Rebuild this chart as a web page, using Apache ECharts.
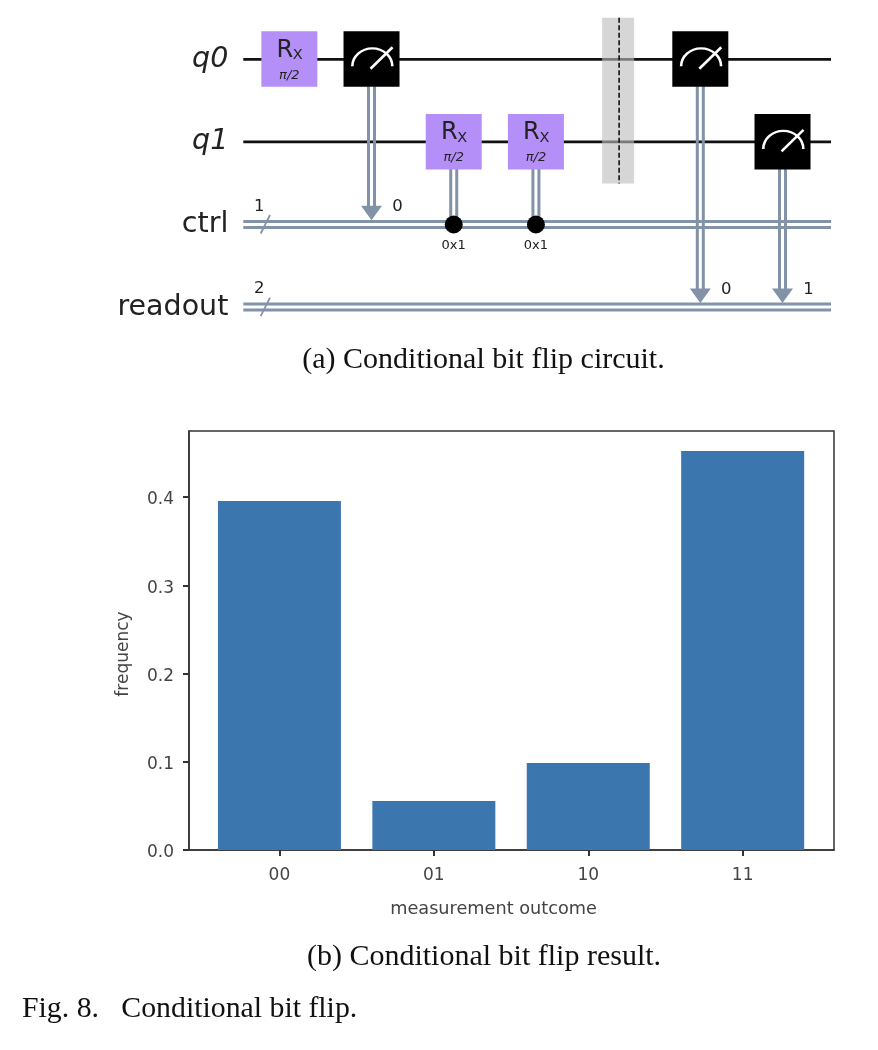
<!DOCTYPE html>
<html>
<head>
<meta charset="utf-8">
<title>Conditional bit flip</title>
<style>
  html, body { margin: 0; padding: 0; background: #fff; }
  #chart { width: 878px; height: 1050px; }
</style>
<script src="https://cdn.jsdelivr.net/npm/echarts@6/dist/echarts.min.js"></script>
</head>
<body>
<div id="chart"></div>
<script>
// Measurement statistics
const outcomes = ['00', '01', '10', '11'];
const frequencies = [0.3955, 0.0555, 0.0986, 0.452];
const frequencyTicks = [0, 0.1, 0.2, 0.3, 0.4];
const outcomeTicks = [0, 1, 2, 3];

// Circuit layout: columns are time steps, wires are indexed from the top
const wireNames = ['q0', 'q1', 'ctrl', 'readout'];
const quantumWires = [0, 1];
const classicalWires = [2, 3];
const rotationGates = [[0, 0], [2, 1], [3, 1]];          // column, wire
const measurements = [[1, 0, 2, '0'], [5, 0, 3, '0'], [6, 1, 3, '1']]; // column, wire, target, bit
const conditions = [[2, 1, 2, '0x1'], [3, 1, 2, '0x1']]; // column, wire, target, value
const barriers = [[4, 0, 1]];                            // column, first wire, last wire
const registerSizes = [[2, '1'], [3, '2']];              // wire, size

const wireStart = -0.56;
const wireEnd = 6.59;

const INK = '#111111';
const CLASSICAL = '#8293a8';
const GATE = '#b48ff8';
const AXIS = '#333333';
const SANS = '"DejaVu Sans"';
const SERIF = '"Liberation Serif"';

function label(x, y, text, size, extra) {
  return {
    type: 'text', x, y,
    style: Object.assign({
      text, fill: '#222', fontSize: size, fontFamily: SANS,
      align: 'center', verticalAlign: 'middle'
    }, extra || {})
  };
}

function line(x1, y1, x2, y2, stroke, width, dash) {
  return {
    type: 'line',
    shape: { x1, y1, x2, y2 },
    style: { stroke, lineWidth: width, lineDash: dash || null, fill: null }
  };
}

function doubleVertical(x, y1, y2) {
  return [line(x - 3, y1, x - 3, y2, CLASSICAL, 3), line(x + 3, y1, x + 3, y2, CLASSICAL, 3)];
}

function circuitSeries(name, data, renderItem) {
  return {
    type: 'custom', name, data, renderItem,
    xAxisIndex: 1, yAxisIndex: 1, silent: true, clip: false, animation: false
  };
}

const BOX = 28;

const option = {
  animation: false,
  backgroundColor: '#fff',
  grid: [
    { left: 189, top: 431, width: 645, height: 419, show: true, borderColor: AXIS, borderWidth: 1.5, backgroundColor: 'transparent' },
    { left: 243.3, top: 18, width: 587.7, height: 330.4, show: false }
  ],
  xAxis: [
    {
      type: 'value', gridIndex: 0, min: -0.5857, max: 3.5915,
      splitLine: { show: false },
      axisLine: { show: true, onZero: false, lineStyle: { color: AXIS, width: 1.5 } },
      axisTick: { show: true, length: 6, customValues: outcomeTicks, lineStyle: { color: AXIS, width: 2 } },
      axisLabel: {
        customValues: outcomeTicks,
        formatter: v => outcomes[v],
        color: '#444', fontSize: 17, fontFamily: SANS, margin: 17
      }
    },
    { type: 'value', gridIndex: 1, min: wireStart, max: wireEnd, show: false, splitLine: { show: false } }
  ],
  yAxis: [
    {
      type: 'value', gridIndex: 0, min: 0, max: 0.4748,
      splitLine: { show: false },
      axisLine: { show: true, onZero: false, lineStyle: { color: AXIS, width: 1.5 } },
      axisTick: { show: true, length: 6, customValues: frequencyTicks, lineStyle: { color: AXIS, width: 2 } },
      axisLabel: {
        customValues: frequencyTicks,
        formatter: v => '{t|' + v.toFixed(1) + '}',
        color: '#444', fontSize: 17, fontFamily: SANS, margin: 15,
        rich: { t: { color: '#444', fontSize: 17, fontFamily: SANS, padding: [6, 0, 0, 0] } }
      }
    },
    {
      type: 'value', gridIndex: 1, min: -0.5, max: 3.5, inverse: true,
      splitLine: { show: false },
      axisLine: { show: false }, axisTick: { show: false },
      axisLabel: {
        customValues: wireNames.map((_, i) => i),
        formatter: v => (v < 2 ? '{it|' + wireNames[v] + '}' : wireNames[v]),
        color: '#222', fontSize: 28.5, fontFamily: SANS, margin: 15,
        rich: { it: { fontStyle: 'italic', fontSize: 28.5, fontFamily: SANS, color: '#222' } }
      }
    }
  ],
  series: [
    {
      type: 'bar', name: 'frequency', xAxisIndex: 0, yAxisIndex: 0,
      data: frequencies.map((v, i) => [i, v]),
      barWidth: 123,
      itemStyle: { color: '#3c76ae' }
    },
    circuitSeries('quantum wires', quantumWires.map(w => [wireStart, w]), (p, api) => {
      const a = api.coord([wireStart, api.value(1)]);
      const b = api.coord([wireEnd, api.value(1)]);
      return line(a[0], a[1], b[0], b[1], INK, 2.8);
    }),
    circuitSeries('classical wires', classicalWires.map(w => [wireStart, w]), (p, api) => {
      const a = api.coord([wireStart, api.value(1)]);
      const b = api.coord([wireEnd, api.value(1)]);
      return {
        type: 'group',
        children: [
          line(a[0], a[1] - 3, b[0], b[1] - 3, CLASSICAL, 3),
          line(a[0], a[1] + 3, b[0], b[1] + 3, CLASSICAL, 3)
        ]
      };
    }),
    circuitSeries('register sizes', registerSizes, (p, api) => {
      const wire = api.value(0);
      const c = api.coord([wireStart, wire]);
      const size = registerSizes[p.dataIndex][1];
      return {
        type: 'group',
        children: [
          line(c[0] + 17.4, c[1] + 9, c[0] + 26.7, c[1] - 9.5, CLASSICAL, 1.8),
          label(c[0] + 16, c[1] - 18, size, 16.5)
        ]
      };
    }),
    circuitSeries('measurement links', measurements, (p, api) => {
      const m = measurements[p.dataIndex];
      const from = api.coord([m[0], m[1]]);
      const to = api.coord([m[0], m[2]]);
      const tip = to[1] - 4.2;
      return {
        type: 'group',
        children: doubleVertical(from[0], from[1] + BOX - 1, tip - 12).concat([
          {
            type: 'polygon',
            shape: { points: [[from[0] - 10.5, tip - 14.5], [from[0] + 10.5, tip - 14.5], [from[0], tip]] },
            style: { fill: CLASSICAL }
          },
          label(from[0] + 26, to[1] - 17.5, m[3], 16.5)
        ])
      };
    }),
    circuitSeries('conditions', conditions, (p, api) => {
      const c = conditions[p.dataIndex];
      const from = api.coord([c[0], c[1]]);
      const to = api.coord([c[0], c[2]]);
      return {
        type: 'group',
        children: doubleVertical(from[0], from[1] + BOX - 1, to[1]).concat([
          { type: 'circle', shape: { cx: to[0], cy: to[1], r: 9 }, style: { fill: '#000' } },
          label(to[0], to[1] + 21.5, c[3], 13)
        ])
      };
    }),
    circuitSeries('rotation gates', rotationGates, (p, api) => {
      const c = api.coord([api.value(0), api.value(1)]);
      return {
        type: 'group',
        children: [
          { type: 'rect', shape: { x: c[0] - BOX, y: c[1] - BOX, width: 2 * BOX, height: 2 * BOX - 0.5 }, style: { fill: GATE } },
          label(c[0] - 4.5, c[1] - 9, 'R', 24),
          label(c[0] + 8.5, c[1] - 4, 'X', 14.5),
          label(c[0], c[1] + 16, 'π/2', 13, { fontStyle: 'italic' })
        ]
      };
    }),
    circuitSeries('measurement gates', measurements, (p, api) => {
      const c = api.coord([api.value(0), api.value(1)]);
      return {
        type: 'group',
        children: [
          { type: 'rect', shape: { x: c[0] - BOX, y: c[1] - BOX, width: 2 * BOX, height: 2 * BOX - 0.5 }, style: { fill: '#000' } },
          {
            type: 'arc', x: c[0] + 0.8, y: c[1] + 7, scaleY: 0.9,
            shape: { cx: 0, cy: 0, r: 20, startAngle: Math.PI, endAngle: 2 * Math.PI, clockwise: true },
            style: { stroke: '#fff', lineWidth: 2.6, fill: null }
          },
          line(c[0] - 1, c[1] + 9.5, c[0] + 21, c[1] - 12, '#fff', 2.6)
        ]
      };
    }),
    circuitSeries('barriers', barriers, (p, api) => {
      const b = barriers[p.dataIndex];
      const top = api.coord([b[0], b[1]]);
      const bottom = api.coord([b[0], b[2]]);
      return {
        type: 'group',
        children: [
          {
            type: 'rect',
            shape: { x: top[0] - 16, y: top[1] - 41.5, width: 32, height: bottom[1] - top[1] + 83 },
            style: { fill: 'rgba(189,189,189,0.62)' }
          },
          line(top[0] + 1, top[1] - 41.5, top[0] + 1, bottom[1] + 41.5, '#111', 1.6, [5, 2.5])
        ]
      };
    })
  ],
  graphic: [
    { type: 'text', x: 493.5, y: 909, style: { text: 'measurement outcome', fill: '#444', fontSize: 17.7, fontFamily: SANS, align: 'center', verticalAlign: 'middle' } },
    { type: 'text', x: 124, y: 654, rotation: Math.PI / 2, style: { text: 'frequency', fill: '#444', fontSize: 17, fontFamily: SANS, align: 'center', verticalAlign: 'middle' } },
    { type: 'text', x: 483.5, y: 360, style: { text: '(a) Conditional bit flip circuit.', fill: '#111', fontSize: 30, fontFamily: SERIF, align: 'center', verticalAlign: 'middle' } },
    { type: 'text', x: 484, y: 957, style: { text: '(b) Conditional bit flip result.', fill: '#111', fontSize: 30, fontFamily: SERIF, align: 'center', verticalAlign: 'middle' } },
    { type: 'text', x: 22, y: 1009, style: { text: 'Fig. 8.   Conditional bit flip.', fill: '#111', fontSize: 29.8, fontFamily: SERIF, align: 'left', verticalAlign: 'middle' } }
  ]
};

echarts.init(document.getElementById('chart'), null, { renderer: 'canvas' }).setOption(option);
</script>
</body>
</html>
